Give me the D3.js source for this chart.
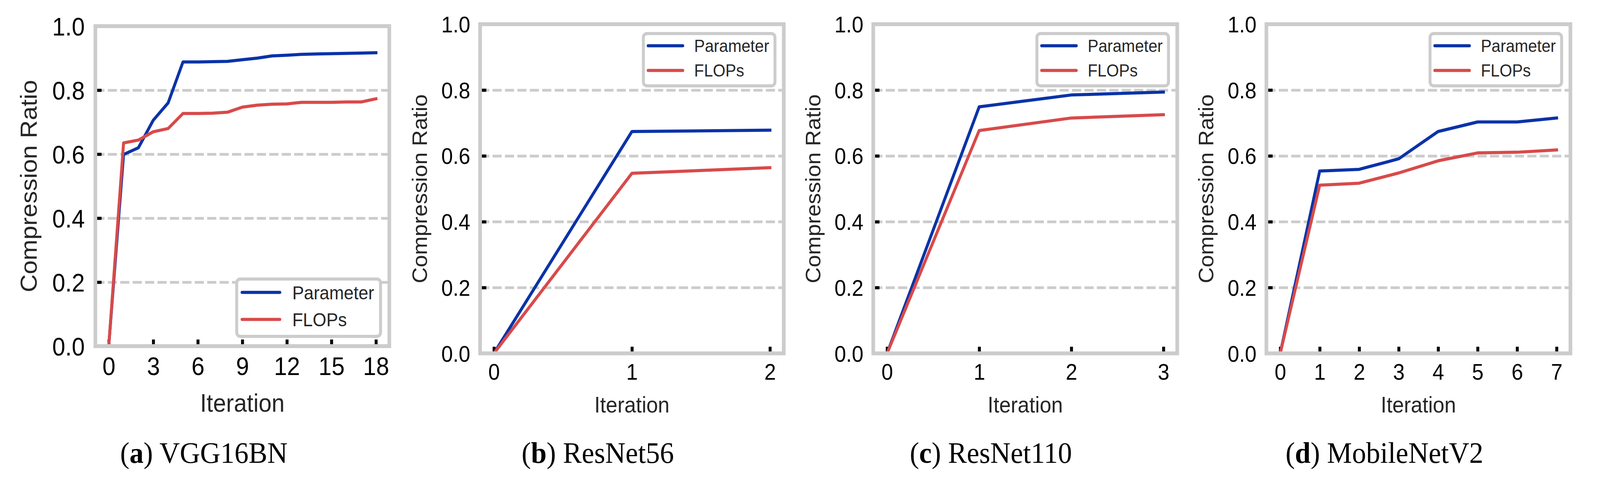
<!DOCTYPE html>
<html>
<head>
<meta charset="utf-8">
<script src="https://cdn.jsdelivr.net/npm/d3@7.9.0/dist/d3.min.js"></script>
<style>
  html, body { margin: 0; padding: 0; background: #fff; overflow: hidden; }
  #chart { display: block; width: 100vw; height: 100vh; }
  svg text { font-family: "Liberation Sans", Arial, sans-serif; }
  svg text.caption { font-family: "Liberation Serif", "Times New Roman", serif; }
</style>
</head>
<body>
<svg id="chart"></svg>
<script>
// Series shared by all four panels
const seriesNames = ["Parameter", "FLOPs"];
const seriesColors = ["#0a33a8", "#d84a4a"];
const yTicks = [0.0, 0.2, 0.4, 0.6, 0.8, 1.0];
const gridValues = [0.2, 0.4, 0.6, 0.8];

// (a) VGG16BN
const vggIteration = [0, 1, 2, 3, 4, 5, 6, 7, 8, 9, 10, 11, 12, 13, 14, 15, 16, 17, 18];
const vggParam = [0.0, 0.599, 0.620, 0.706, 0.760, 0.888, 0.888, 0.889, 0.890, 0.895, 0.900, 0.907, 0.909, 0.912, 0.913, 0.914, 0.915, 0.916, 0.917];
const vggFlops = [0.0, 0.635, 0.644, 0.670, 0.680, 0.727, 0.727, 0.728, 0.731, 0.747, 0.753, 0.756, 0.757, 0.762, 0.762, 0.762, 0.763, 0.763, 0.773];
const vggTicks = [0, 3, 6, 9, 12, 15, 18];

// (b) ResNet56
const resnet56Iteration = [0, 1, 2];
const resnet56Param = [0.0, 0.674, 0.678];
const resnet56Flops = [0.0, 0.547, 0.564];
const resnet56Ticks = [0, 1, 2];

// (c) ResNet110
const resnet110Iteration = [0, 1, 2, 3];
const resnet110Param = [0.0, 0.749, 0.785, 0.794];
const resnet110Flops = [0.0, 0.677, 0.715, 0.725];
const resnet110Ticks = [0, 1, 2, 3];

// (d) MobileNetV2
const mobilenetIteration = [0, 1, 2, 3, 4, 5, 6, 7];
const mobilenetParam = [0.0, 0.554, 0.559, 0.591, 0.674, 0.703, 0.703, 0.715];
const mobilenetFlops = [0.0, 0.511, 0.517, 0.548, 0.585, 0.609, 0.611, 0.618];
const mobilenetTicks = [0, 1, 2, 3, 4, 5, 6, 7];

const panels = [
    { tag: "a", name: "VGG16BN", x: vggIteration, series: [vggParam, vggFlops], ticks: vggTicks },
    { tag: "b", name: "ResNet56", x: resnet56Iteration, series: [resnet56Param, resnet56Flops], ticks: resnet56Ticks },
    { tag: "c", name: "ResNet110", x: resnet110Iteration, series: [resnet110Param, resnet110Flops], ticks: resnet110Ticks },
    { tag: "d", name: "MobileNetV2", x: mobilenetIteration, series: [mobilenetParam, mobilenetFlops], ticks: mobilenetTicks }
];

// Frame boxes and font sizes of each subplot (pixels)
const layouts = [
    { left: 261, right: 1065.5, top: 67, bottom: 887, font: 64, legendFont: 48, legendPos: "lower", ylabelGap: 160, pad: 29, xlabelY: 1055, captionX: 558 },
    { left: 1314, right: 2145, top: 62, bottom: 905.5, font: 57, legendFont: 44, legendPos: "upper", ylabelGap: 145, pad: 27, xlabelY: 1057, captionX: 1636 },
    { left: 2390, right: 3222, top: 62, bottom: 905.5, font: 57, legendFont: 44, legendPos: "upper", ylabelGap: 145, pad: 27, xlabelY: 1057, captionX: 2712 },
    { left: 3466, right: 4298, top: 62, bottom: 905.5, font: 57, legendFont: 44, legendPos: "upper", ylabelGap: 145, pad: 27, xlabelY: 1057, captionX: 3789 }
];

const width = 4379;
const height = 1230;
const captionY = 1186;

// stretch the figure over the whole viewport (browser may cap the width)
const svg = d3.select("#chart")
    .attr("viewBox", `0 0 ${width} ${height}`)
    .attr("preserveAspectRatio", "none");

svg.append("rect").attr("width", width).attr("height", height).attr("fill", "#fff");

panels.forEach((p, i) => drawPanel(p, layouts[i]));

function drawPanel(p, L) {
    const g = svg.append("g");
    const plotW = L.right - L.left;

    const xMin = d3.min(p.x);
    const xMax = d3.max(p.x);
    const margin = (xMax - xMin) * 0.05; // matplotlib default x margin
    const x = d3.scaleLinear().domain([xMin - margin, xMax + margin]).range([L.left, L.right]);
    const y = d3.scaleLinear().domain([0, 1]).range([L.bottom, L.top]);

    // dashed horizontal grid
    g.append("g")
        .attr("transform", `translate(${L.left},0)`)
        .call(d3.axisLeft(y).tickValues(gridValues).tickSize(-plotW).tickFormat(""))
        .call(s => s.select(".domain").remove())
        .selectAll("line")
        .attr("stroke", "#cccccc")
        .attr("stroke-width", 7)
        .attr("stroke-dasharray", "25,9");

    // y axis ticks (inside) + labels
    const yAxis = g.append("g")
        .attr("transform", `translate(${L.left},0)`)
        .call(d3.axisLeft(y).tickValues(yTicks).tickSize(-17).tickPadding(L.pad).tickFormat(d3.format(".1f")));
    styleAxis(yAxis, L.font);
    yAxis.selectAll("text").attr("dy", "0.36em");

    // x axis ticks (inside) + labels
    const xAxis = g.append("g")
        .attr("transform", `translate(0,${L.bottom})`)
        .call(d3.axisBottom(x).tickValues(p.ticks).tickSize(-17).tickPadding(L.pad).tickFormat(d3.format("d")));
    styleAxis(xAxis, L.font);

    // clip lines to the axes box
    const clipId = `clip-${p.tag}`;
    svg.append("clipPath").attr("id", clipId)
        .append("rect")
        .attr("x", L.left).attr("y", L.top)
        .attr("width", plotW).attr("height", L.bottom - L.top);

    const line = d3.line()
        .x((d, i) => x(p.x[i]))
        .y(d => y(d));

    p.series.forEach((values, s) => {
        g.append("path")
            .datum(values)
            .attr("d", line)
            .attr("clip-path", `url(#${clipId})`)
            .attr("fill", "none")
            .attr("stroke", seriesColors[s])
            .attr("stroke-width", 8)
            .attr("stroke-linejoin", "round")
            .attr("stroke-linecap", "square");
    });

    // frame
    g.append("rect")
        .attr("x", L.left).attr("y", L.top)
        .attr("width", plotW).attr("height", L.bottom - L.top)
        .attr("fill", "none")
        .attr("stroke", "#cccccc")
        .attr("stroke-width", 10);

    // axis labels
    g.append("text")
        .attr("transform", `translate(${L.left - L.ylabelGap},${(L.top + L.bottom) / 2}) rotate(-90)`)
        .attr("text-anchor", "middle")
        .attr("fill", "#262626")
        .style("font-size", `${L.font}px`)
        .text("Compression Ratio");

    g.append("text")
        .attr("x", (L.left + L.right) / 2)
        .attr("y", L.xlabelY)
        .attr("text-anchor", "middle")
        .attr("fill", "#262626")
        .style("font-size", `${L.font}px`)
        .text("Iteration");

    drawLegend(g, L);

    // caption under the subplot
    const cap = g.append("text")
        .attr("class", "caption")
        .attr("x", L.captionX)
        .attr("y", captionY)
        .attr("text-anchor", "middle")
        .attr("fill", "#000")
        .style("font-size", "77px");
    cap.append("tspan").text("(");
    cap.append("tspan").attr("font-weight", "bold").text(p.tag);
    cap.append("tspan").text(") " + p.name);
}

function styleAxis(axis, fontSize) {
    axis.select(".domain").remove();
    axis.attr("font-size", null).attr("font-family", null);
    axis.selectAll("line").attr("stroke", "#000").attr("stroke-width", 8);
    axis.selectAll("text")
        .attr("fill", "#000")
        .style("font-size", `${fontSize}px`);
}

function drawLegend(g, L) {
    const f = L.legendFont;
    const legend = g.append("g");

    const texts = legend.selectAll("text")
        .data(seriesNames)
        .enter().append("text")
        .attr("x", 3.25 * f)
        .attr("y", (d, i) => 0.8 * f + i * 1.44 * f + 0.36 * f)
        .attr("fill", "#262626")
        .style("font-size", `${f}px`)
        .text(d => d);

    let textW = 0;
    texts.each(function () { textW = Math.max(textW, this.getComputedTextLength()); });

    const boxW = 3.25 * f + textW + 0.45 * f;
    const boxH = 3.23 * f;

    legend.insert("rect", "text")
        .attr("x", 4).attr("y", 4)
        .attr("width", boxW - 8).attr("height", boxH - 8)
        .attr("rx", 10)
        .attr("fill", "#fff")
        .attr("stroke", "#cccccc")
        .attr("stroke-width", 8);

    legend.selectAll("line")
        .data(seriesNames)
        .enter().append("line")
        .attr("x1", 0.39 * f)
        .attr("x2", 0.39 * f + 2.15 * f)
        .attr("y1", (d, i) => 0.8 * f + i * 1.44 * f)
        .attr("y2", (d, i) => 0.8 * f + i * 1.44 * f)
        .attr("stroke", (d, i) => seriesColors[i])
        .attr("stroke-width", 8)
        .attr("stroke-linecap", "round");

    const lx = L.right - 20 - boxW;
    const ly = L.legendPos === "upper" ? L.top + 20 : L.bottom - 21 - boxH;
    legend.attr("transform", `translate(${lx},${ly})`);
}
</script>
</body>
</html>
